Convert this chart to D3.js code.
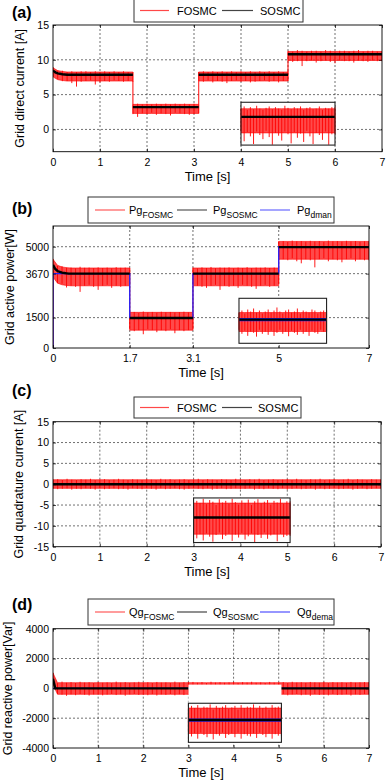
<!DOCTYPE html>
<html>
<head>
<meta charset="utf-8">
<script src="https://cdn.jsdelivr.net/npm/d3@7"></script>
<style>
  body { margin: 0; background: #fff; }
  svg { display: block; }
  text { font-family: "Liberation Sans", Arial, Helvetica, sans-serif; font-weight: 400; fill: #000; }
</style>
</head>
<body>
<div id="chart"></div>
<script>
// time axis ticks
var timeTicks = [0, 1, 2, 3, 4, 5, 6, 7];
var powerTimeTicks = [0, 1.7, 3.1, 5, 7];

// (a) grid direct current [A]
var aYTicks = [0, 5, 10, 15];
var aSteps = [[0, 1.7, 7.85], [1.7, 3.1, 3.2], [3.1, 5, 7.85], [5, 7, 10.8]];
var aStart = [[0, 8.45], [0.05, 8.2], [0.1, 8.05], [0.2, 7.93], [0.3, 7.85]];
var aHi = [0.5,0.4,0.5,0.4,0.5,0.4,0.5,0.5,0.4,0.5,0.4,0.5,0.4,0.5,0.4,0.5,0.4,
  0.4,0.5,0.4,0.5,0.4,0.5,0.4,0.5,0.4,0.5,0.4,0.5,0.4,0.5,
  0.4,0.5,0.4,0.5,0.4,0.5,0.4,0.5,0.4,0.5,0.4,0.5,0.4,0.5,0.4,0.5,0.4,0.5,0.4,
  0.5,0.4,0.6,0.5,0.4,0.5,0.5,0.4,0.6,0.5,0.4,0.5,0.5,0.4,0.5,0.6,0.4,0.5,0.5,0.4];
var aLo = [0.9,0.8,1.0,0.9,1.2,1.7,1.0,0.9,0.8,1.4,1.1,0.9,1.0,0.8,0.9,1.0,0.9,
  1.0,1.4,0.9,1.0,0.8,1.1,0.9,1.0,1.2,0.8,0.9,1.0,1.1,1.0,
  0.9,1.0,0.8,1.1,0.9,1.0,1.2,0.9,0.8,1.0,0.9,1.1,1.0,0.9,0.8,1.0,0.9,1.1,0.9,
  0.9,1.1,1.0,1.7,1.0,0.9,1.2,1.0,0.9,1.1,1.3,0.9,1.0,1.0,1.2,0.9,1.0,1.1,0.9,1.0];
var aInsetBox = [4, 6, -2.25, 3.9];
var aInsetLevel = 1.8;
var aInsetHi = [1.2,1.5,1.0,1.4,1.1,1.6,1.2,1.0,1.3,1.5,1.1,1.4,1.2,1.0,1.6,1.3,1.1,1.4,1.2,1.5,1.0,1.3,1.4,1.1,1.2,1.5,1.0,1.3,1.2,1.4];
var aInsetLo = [2.0,3.5,2.2,2.8,3.9,2.1,2.6,3.2,2.0,2.9,4.0,2.3,2.7,3.4,2.1,2.5,3.8,2.2,3.0,2.4,3.6,2.0,2.8,3.9,2.3,2.6,3.3,2.1,4.0,2.5];

// (b) grid active power [W]
var bYTicks = [0, 1500, 3670, 5000];
var bSteps = [[0, 1.7, 3670], [1.7, 3.1, 1480], [3.1, 5, 3670], [5, 7, 4980]];
var bRef = [[0, 1.7, 3670], [1.7, 3.1, 1500], [3.1, 5, 3670], [5, 7, 5000]];
var bStart = [[0, 4100], [0.05, 3900], [0.1, 3800], [0.2, 3720], [0.35, 3670]];
var bInitial = 0;
var bHi = [300,250,320,280,300,260,340,290,300,270,310,280,300,260,320,290,300,
  280,300,250,320,270,300,260,310,280,300,270,290,310,280,
  300,260,310,280,330,270,300,290,310,260,300,280,320,270,300,290,310,280,300,
  280,300,260,320,290,300,270,310,280,300,260,320,290,300,270,310,280,300,260,290];
var bLo = [500,600,550,700,600,650,900,600,550,650,800,600,550,700,600,650,600,
  550,650,600,800,550,600,700,600,650,550,750,600,650,600,
  550,600,650,700,600,550,800,600,650,600,700,550,600,650,750,600,550,650,600,
  500,600,650,550,700,800,600,650,1000,600,550,700,600,650,750,600,550,700,600,650];
var bInsetBox = [4.12, 6.06, 232, 2453];
var bInsetLevel = 1400;
var bInsetHi = [350,450,300,500,400,550,350,450,300,400,500,350,450,600,400,300,450,500,350,400,550,300,450,400,350,500,450,300,400,450];
var bInsetLo = [500,700,550,800,600,650,840,500,700,600,750,550,800,650,500,700,600,820,550,650,750,500,700,600,800,550,650,700,500,600];

// (c) grid quadrature current [A]
var cYTicks = [-15, -10, -5, 0, 5, 10, 15];
var cSteps = [[0, 7, 0]];
var cHi = [1.1,1.2,1.0,1.3,1.1,1.0,1.2,1.1,1.3,1.0,1.1,1.2,1.0,1.1,1.3,1.1,1.0,1.2,1.1,1.0,
  1.2,1.1,1.0,1.3,1.1,1.2,1.0,1.1,1.2,1.0,1.1,1.3,1.0,1.2,1.1,1.0,1.2,1.1,1.0,1.3,
  1.1,1.0,1.2,1.1,1.3,1.0,1.1,1.2,1.0,1.1,1.2,1.0,1.3,1.1,1.0,1.2,1.1,1.3,1.0,1.1,
  1.2,1.0,1.1,1.3,1.0,1.2,1.1,1.0,1.2,1.1];
var cLo = [1.0,1.2,1.1,1.0,1.3,1.1,1.2,1.0,1.1,1.3,1.0,1.2,1.1,1.0,1.2,1.1,1.3,1.0,1.1,1.2,
  1.0,1.1,1.3,1.0,1.2,1.1,1.0,1.2,1.3,1.1,1.0,1.1,1.2,1.0,1.3,1.1,1.0,1.2,1.1,1.0,
  1.2,1.1,1.0,1.3,1.1,1.2,1.0,1.1,1.2,1.0,1.3,1.1,1.0,1.2,1.1,1.0,1.3,1.0,1.2,1.1,
  1.0,1.2,1.1,1.0,1.3,1.1,1.0,1.2,1.1,1.0];
var cInsetBox = [3, 5.06, -14, -3.3];
var cInsetLevel = -8;
var cInsetHi = [3.0,4.0,3.5,4.5,3.2,4.2,3.8,3.0,4.4,3.6,4.0,3.3,4.5,3.7,3.1,4.1,3.5,4.3,3.0,3.9,4.4,3.4,3.8,4.2,3.1,4.0,3.6,4.5,3.3,3.9];
var cInsetLo = [3.5,5.0,4.0,5.5,3.8,4.6,5.8,4.2,3.6,5.2,4.4,3.9,5.6,4.1,4.8,3.7,5.3,4.5,3.8,5.9,4.2,4.9,3.6,5.1,4.3,4.0,5.7,3.9,4.7,4.4];

// (d) grid reactive power [Var]
var dYTicks = [-4000, -2000, 0, 2000, 4000];
var dSteps = [[0, 3, 0], [3, 5, 0], [5, 7, 0]];
var dRef = [[0, 7, 0]];
var dStart = [[0, 650], [0.05, 0]];
var dHi = [400,350,450,380,420,360,440,390,410,350,430,380,400,360,450,390,420,370,400,440,
  380,410,360,430,390,400,370,450,380,420,
  400,430,380,420,360,440,390,410,380,400,430,370,420,390,440,380,400,360,430,390,
  380,420,360,440,390,410,370,430,400,380,440,360,420,390,410,370,430,380,400,420];
var dLo = [450,380,420,500,400,460,380,430,480,410,390,470,420,380,450,400,490,410,380,440,
  420,460,390,480,410,440,380,470,400,450,
  420,400,460,380,440,410,470,390,430,450,400,480,420,390,460,410,440,380,470,420,
  440,390,470,410,380,460,420,500,390,440,410,470,380,450,420,400,480,410,440,390];
var dInsetBox = [3, 5.06, -3620, -1000];
var dInsetBgTop = 250;
var dInsetLevel = -2125;
var dInsetHi = [700,950,800,1000,750,900,850,1050,700,950,800,900,1000,750,850,950,700,1000,800,900,850,1050,750,950,800,900,700,1000,850,900];
var dInsetLo = [800,1100,900,1250,850,1000,1150,900,1300,950,1050,850,1200,1000,900,1150,850,1250,950,1050,1100,900,1200,850,1000,1150,900,1250,950,1050];

var RED = "#ff0000", BLUE = "#2020ff";

var svg = d3.select("#chart").append("svg")
  .attr("width", 388)
  .attr("height", 782);

var defs = svg.append("defs");

// level of a segment, following the start-up transient where given
function levelAt(start, t, base) {
  if (start && t <= start[start.length - 1][0]) {
    for (var j = 1; j < start.length; j++) {
      if (t <= start[j][0]) {
        var a = start[j - 1], b = start[j];
        return a[1] + (b[1] - a[1]) * (t - a[0]) / (b[0] - a[0]);
      }
    }
  }
  return base;
}

// FOSMC samples: [time, level, upper excursion, lower excursion]
function bandPoints(steps, start, hi, lo) {
  var pts = [];
  steps.forEach(function(s) {
    var k0 = Math.round(s[0] / 0.1), k1 = Math.round(s[1] / 0.1);
    for (var k = k0; k <= k1; k++) {
      var t = k * 0.1, i = Math.min(hi.length - 1, k);
      pts.push([t, levelAt(start, t, s[2]), hi[i], lo[i]]);
    }
  });
  return pts;
}

function insetPoints(box, level, hi, lo) {
  var pts = [], n = hi.length, dt = (box[1] - box[0]) / n;
  for (var k = 0; k <= n; k++) {
    var i = Math.min(n - 1, k);
    pts.push([box[0] + k * dt, level, hi[i], lo[i]]);
  }
  return pts;
}

// red band (typical swing) plus a needle per sample for its full swing
function drawTrace(g, x, y, pts, hi, lo) {
  var hiT = d3.quantile(hi.slice().sort(d3.ascending), 0.3);
  var loT = d3.quantile(lo.slice().sort(d3.ascending), 0.3);
  g.append("path")
    .datum(pts)
    .attr("fill", "#ff2a2a")
    .attr("fill-opacity", 0.85)
    .attr("stroke", RED)
    .attr("stroke-width", 0.6)
    .attr("d", d3.area().x(function(d) { return x(d[0]); })
      .y0(function(d) { return y(d[1] - loT); })
      .y1(function(d) { return y(d[1] + hiT); }));
  g.selectAll(null)
    .data(pts)
    .enter().append("line")
    .attr("x1", function(d) { return x(d[0]); })
    .attr("x2", function(d) { return x(d[0]); })
    .attr("y1", function(d) { return y(d[1] + d[2]); })
    .attr("y2", function(d) { return y(d[1] - d[3]); })
    .attr("stroke", RED)
    .attr("stroke-width", 0.9);
}

function drawPanel(p, idx) {
  var g = svg.append("g");
  var x = d3.scaleLinear().domain([0, 7]).range([p.left, p.right]);
  var y = d3.scaleLinear().domain(p.yDomain).range([p.bottom, p.top]);

  // grid
  p.xTicks.forEach(function(t) {
    if (t <= 0 || t >= 7) return;
    g.append("line").attr("x1", x(t)).attr("x2", x(t)).attr("y1", p.top).attr("y2", p.bottom)
      .attr("stroke", "#333").attr("stroke-width", 0.7).attr("stroke-dasharray", "2,2");
  });
  p.yTicks.forEach(function(v) {
    if (v <= p.yDomain[0] || v >= p.yDomain[1]) return;
    g.append("line").attr("x1", p.left).attr("x2", p.right).attr("y1", y(v)).attr("y2", y(v))
      .attr("stroke", "#333").attr("stroke-width", 0.7).attr("stroke-dasharray", "2,2");
  });

  defs.append("clipPath").attr("id", "clip" + idx)
    .append("rect").attr("x", p.left).attr("y", p.top)
    .attr("width", p.right - p.left).attr("height", p.bottom - p.top);
  var data = g.append("g").attr("clip-path", "url(#clip" + idx + ")");

  var line = d3.line().x(function(d) { return x(d[0]); }).y(function(d) { return y(d[1]); });

  if (p.initial !== undefined) {
    data.append("path").datum([[0, p.initial], [0, levelAt(p.start, 0, p.steps[0][2])]])
      .attr("stroke", RED).attr("stroke-width", 1.2).attr("d", line);
  }
  drawTrace(data, x, y, bandPoints(p.steps, p.start, p.hi, p.lo), p.hi, p.lo);

  // demand (reference) as a step line
  if (p.ref) {
    var rp = [];
    if (p.initial !== undefined) rp.push([0, p.initial]);
    p.ref.forEach(function(s) { rp.push([s[0], s[2]]); rp.push([s[1], s[2]]); });
    data.append("path").datum(rp).attr("fill", "none").attr("stroke", BLUE)
      .attr("stroke-width", 1.3).attr("d", line);
  }

  // SOSMC
  p.steps.forEach(function(s) {
    var sp = [];
    for (var k = Math.round(s[0] / 0.05); k <= Math.round(s[1] / 0.05); k++) {
      sp.push([k * 0.05, levelAt(p.start, k * 0.05, s[2])]);
    }
    data.append("path").datum(sp).attr("fill", "none").attr("stroke", "#000")
      .attr("stroke-width", 2.4).attr("d", line);
  });

  // zoomed inset
  var b = p.inset;
  var bgTop = b.bgTop !== undefined ? b.bgTop : b.box[3];
  data.append("rect").attr("x", x(b.box[0])).attr("y", y(bgTop))
    .attr("width", x(b.box[1]) - x(b.box[0])).attr("height", y(b.box[2]) - y(bgTop))
    .attr("fill", "#fff");
  drawTrace(data, x, y, insetPoints(b.box, b.level, b.hi, b.lo), b.hi, b.lo);
  if (p.ref) {
    data.append("line").attr("x1", x(b.box[0])).attr("x2", x(b.box[1]))
      .attr("y1", y(b.level)).attr("y2", y(b.level))
      .attr("stroke", BLUE).attr("stroke-width", 3.2);
  }
  data.append("line").attr("x1", x(b.box[0])).attr("x2", x(b.box[1]))
    .attr("y1", y(b.level)).attr("y2", y(b.level))
    .attr("stroke", "#000").attr("stroke-width", 2.4);
  data.append("rect").attr("x", x(b.box[0])).attr("y", y(b.box[3]))
    .attr("width", x(b.box[1]) - x(b.box[0])).attr("height", y(b.box[2]) - y(b.box[3]))
    .attr("fill", "none").attr("stroke", "#222").attr("stroke-width", 1.1);

  // axes, MATLAB style inward ticks
  var fmt = function(d) { return String(d); };
  var ax = g.append("g").attr("transform", "translate(0," + p.bottom + ")")
    .call(d3.axisBottom(x).tickValues(p.xTicks).tickFormat(fmt).tickSize(-3).tickPadding(6.5));
  var ay = g.append("g").attr("transform", "translate(" + p.left + ",0)")
    .call(d3.axisLeft(y).tickValues(p.yTicks).tickFormat(fmt).tickSize(-3).tickPadding(4));
  g.append("g").attr("transform", "translate(0," + p.top + ")")
    .call(d3.axisTop(x).tickValues(p.xTicks).tickFormat("").tickSize(-3));
  g.append("g").attr("transform", "translate(" + p.right + ",0)")
    .call(d3.axisRight(y).tickValues(p.yTicks).tickFormat("").tickSize(-3));
  g.selectAll(".domain").remove();
  g.selectAll(".tick line").attr("stroke", "#000").attr("stroke-width", 0.7);
  [ax, ay].forEach(function(a) {
    a.attr("font-family", null);
    a.selectAll("text").attr("font-size", "10.5px").attr("fill", "#000");
  });

  g.append("rect").attr("x", p.left).attr("y", p.top)
    .attr("width", p.right - p.left).attr("height", p.bottom - p.top)
    .attr("fill", "none").attr("stroke", "#000").attr("stroke-width", 0.9);

  // labels
  g.append("text").attr("x", (p.left + p.right) / 2 - 10).attr("y", p.bottom + 29)
    .attr("text-anchor", "middle").attr("font-size", "13px").text("Time [s]");
  g.append("text")
    .attr("transform", "translate(" + p.yLabelX + "," + (p.top + p.bottom) / 2 + ") rotate(-90)")
    .attr("text-anchor", "middle").attr("font-size", "12.5px").text(p.yLabel);
  g.append("text").attr("x", 12).attr("y", p.tagY)
    .attr("font-size", "16px").style("font-weight", "bold").text(p.tag);

  // legend
  var L = p.legend;
  var lg = svg.append("g");
  lg.append("rect").attr("x", L.x0).attr("y", L.y0).attr("width", L.x1 - L.x0).attr("height", L.y1 - L.y0)
    .attr("fill", "#fff").attr("stroke", "#333").attr("stroke-width", 1);
  var ly = (L.y0 + L.y1) / 2;
  L.items.forEach(function(it) {
    lg.append("line").attr("x1", it.lx0).attr("x2", it.lx1).attr("y1", ly).attr("y2", ly)
      .attr("stroke", it.color).attr("stroke-width", 1.2);
    var t = lg.append("text").attr("x", it.tx).attr("y", ly + 4).attr("font-size", "11px");
    t.append("tspan").text(it.name);
    if (it.sub) {
      t.append("tspan").attr("dy", 4).attr("font-size", "8.5px").text(it.sub);
    }
  });
}

var panels = [
  {
    tag: "(a)", tagY: 18, left: 53, right: 382, top: 25, bottom: 151.7,
    yDomain: [-3.2, 15], xTicks: timeTicks, yTicks: aYTicks,
    steps: aSteps, start: aStart, hi: aHi, lo: aLo,
    inset: { box: aInsetBox, level: aInsetLevel, hi: aInsetHi, lo: aInsetLo },
    yLabel: "Grid direct current [A]", yLabelX: 24,
    legend: { x0: 134, x1: 303, y0: -1, y1: 22, items: [
      { lx0: 140, lx1: 169, tx: 177, color: "#ff4848", name: "FOSMC" },
      { lx0: 222, lx1: 253, tx: 260, color: "#444", name: "SOSMC" }
    ] }
  },
  {
    tag: "(b)", tagY: 214, left: 53, right: 369, top: 226, bottom: 348,
    yDomain: [0, 6022], xTicks: powerTimeTicks, yTicks: bYTicks,
    steps: bSteps, ref: bRef, start: bStart, initial: bInitial, hi: bHi, lo: bLo,
    inset: { box: bInsetBox, level: bInsetLevel, hi: bInsetHi, lo: bInsetLo },
    yLabel: "Grid active power[W]", yLabelX: 14,
    legend: { x0: 88, x1: 334, y0: 197, y1: 223, items: [
      { lx0: 95, lx1: 125, tx: 129, color: "#ff5a5a", name: "Pg", sub: "FOSMC" },
      { lx0: 177, lx1: 207, tx: 213, color: "#555", name: "Pg", sub: "SOSMC" },
      { lx0: 260, lx1: 290, tx: 297, color: "#6a6aff", name: "Pg", sub: "dman" }
    ] }
  },
  {
    tag: "(c)", tagY: 396, left: 53, right: 381, top: 421.7, bottom: 546.7,
    yDomain: [-15, 15], xTicks: timeTicks, yTicks: cYTicks,
    steps: cSteps, hi: cHi, lo: cLo,
    inset: { box: cInsetBox, level: cInsetLevel, hi: cInsetHi, lo: cInsetLo },
    yLabel: "Grid quadrature current [A]", yLabelX: 23,
    legend: { x0: 134, x1: 301, y0: 397, y1: 418, items: [
      { lx0: 140, lx1: 169, tx: 177, color: "#ff4848", name: "FOSMC" },
      { lx0: 222, lx1: 252, tx: 258, color: "#444", name: "SOSMC" }
    ] }
  },
  {
    tag: "(d)", tagY: 610, left: 53, right: 369, top: 628.7, bottom: 748,
    yDomain: [-4000, 4000], xTicks: timeTicks, yTicks: dYTicks,
    steps: dSteps, ref: dRef, start: dStart, hi: dHi, lo: dLo,
    inset: { box: dInsetBox, bgTop: dInsetBgTop, level: dInsetLevel, hi: dInsetHi, lo: dInsetLo },
    yLabel: "Grid reactive power[Var]", yLabelX: 12,
    legend: { x0: 88, x1: 334, y0: 599, y1: 625, items: [
      { lx0: 95, lx1: 125, tx: 129, color: "#ff5a5a", name: "Qg", sub: "FOSMC" },
      { lx0: 177, lx1: 207, tx: 213, color: "#444", name: "Qg", sub: "SOSMC" },
      { lx0: 260, lx1: 290, tx: 297, color: "#5050ff", name: "Qg", sub: "dema" }
    ] }
  }
];

panels.forEach(drawPanel);
</script>
</body>
</html>
